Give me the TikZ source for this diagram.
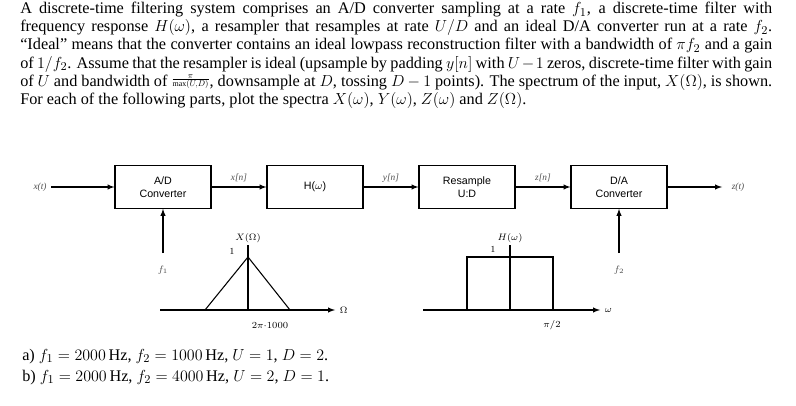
\documentclass[tikz,border=0pt]{standalone}
\usepackage{amsmath}
\usepackage{fontspec}
\setmainfont{Liberation Serif}
\newfontfamily\blocksans{Liberation Sans}
\usetikzlibrary{positioning}

\begin{document}
\begin{tikzpicture}[x=0.75pt, y=-0.75pt,
    % Styles for the block diagram
    block/.style={draw, thick, minimum width=72pt, minimum height=32pt, align=center, font=\blocksans\footnotesize, inner sep=1pt},
    signal/.style={font=\scriptsize\itshape, color=black!70},
    flow/.style={thick, -latex},
    axisline/.style={thick, -latex},
    spec/.style={thick},
    ticklabel/.style={font=\scriptsize}
]
\useasboundingbox (0,0) rectangle (796,406);

% Problem statement
\node [anchor=north west, text width=564pt, align=justify, inner sep=0pt,
       font=\fontsize{12.2}{13.6}\selectfont] (stmt) at (20,2) {%
\hyphenpenalty=10000
A discrete-time filtering system comprises an A/D converter sampling at a rate $f_1$, a discrete-time filter with\linebreak
frequency response $H(\omega)$, a resampler that resamples at rate $U/D$ and an ideal D/A converter run at a rate $f_2$.\linebreak
``Ideal'' means that the converter contains an ideal lowpass reconstruction filter with a bandwidth of $\pi f_2$ and a gain\linebreak
of $1/f_2$. Assume that the resampler is ideal (upsample by padding $y[n]$ with $U-1$ zeros, discrete-time filter with gain\linebreak
of $U$ and bandwidth of \raisebox{0.5ex}{\scalebox{0.7}{$\frac{\pi}{\max(U,D)}$}}, downsample at $D$, tossing $D-1$ points). The spectrum of the input, $X(\Omega)$, is shown.\linebreak
For each of the following parts, plot the spectra $X(\omega)$, $Y(\omega)$, $Z(\omega)$ and $Z(\Omega)$.\par};

% Blocks
\node [block] (adc) at (163,187) {A/D\\Converter};
\node [block] (filt) at (315,187) {H($\omega$)};
\node [block] (resamp) at (467,187) {Resample\\U:D};
\node [block] (dac) at (619,187) {D/A\\Converter};

% Signals
\node [signal] (xt) at (40,187) {x(t)};
\coordinate (zend) at (722,187);
\node [signal] (zt) at (738,187) {z(t)};
\node [signal] (fone) at (163,270) {$f_1$};
\node [signal] (ftwo) at (619,270) {$f_2$};
\coordinate (fonetop) at (163,253);
\coordinate (ftwotop) at (619,253);

\draw [flow] (xt) -- (adc);
\draw [flow] (adc) -- node [signal, above] {x[n]} (filt);
\draw [flow] (filt) -- node [signal, above] {y[n]} (resamp);
\draw [flow] (resamp) -- node [signal, above] {z[n]} (dac);
\draw [flow] (dac) -- (zend);
\draw [flow] (fonetop) -- (adc);
\draw [flow] (ftwotop) -- (dac);

% Input spectrum X(Omega)
\draw [axisline] (160,310) -- (335,310) node [right, ticklabel] {$\Omega$};
\draw [spec] (248,310) -- (248,245) node [above, ticklabel, inner sep=1pt] {$X(\Omega)$};
\draw [spec] (205,310) -- (248,257) -- (290,310);
\node [ticklabel] at (232,251) {1};
\node [ticklabel] at (270,325) {$2\pi{\cdot}1000$};

% Filter response H(omega)
\draw [axisline] (423,310) -- (600,310) node [right, ticklabel] {$\omega$};
\draw [spec] (510,310) -- (510,245) node [above, ticklabel, inner sep=1pt] {$H(\omega)$};
\draw [spec] (467,310) |- (553,257) -- (553,310);
\node [ticklabel] at (493,249) {1};
\node [ticklabel] at (552,325) {$\pi/2$};

% Parts
\node [anchor=north west, inner sep=0pt, align=left,
       font=\fontsize{12.2}{15.5}\selectfont] (parts) at (22,349) {%
a) $f_1=2000\,\mathrm{Hz}$, $f_2=1000\,\mathrm{Hz}$, $U=1$, $D=2$.\\
b) $f_1=2000\,\mathrm{Hz}$, $f_2=4000\,\mathrm{Hz}$, $U=2$, $D=1$.};
\end{tikzpicture}
\end{document}
